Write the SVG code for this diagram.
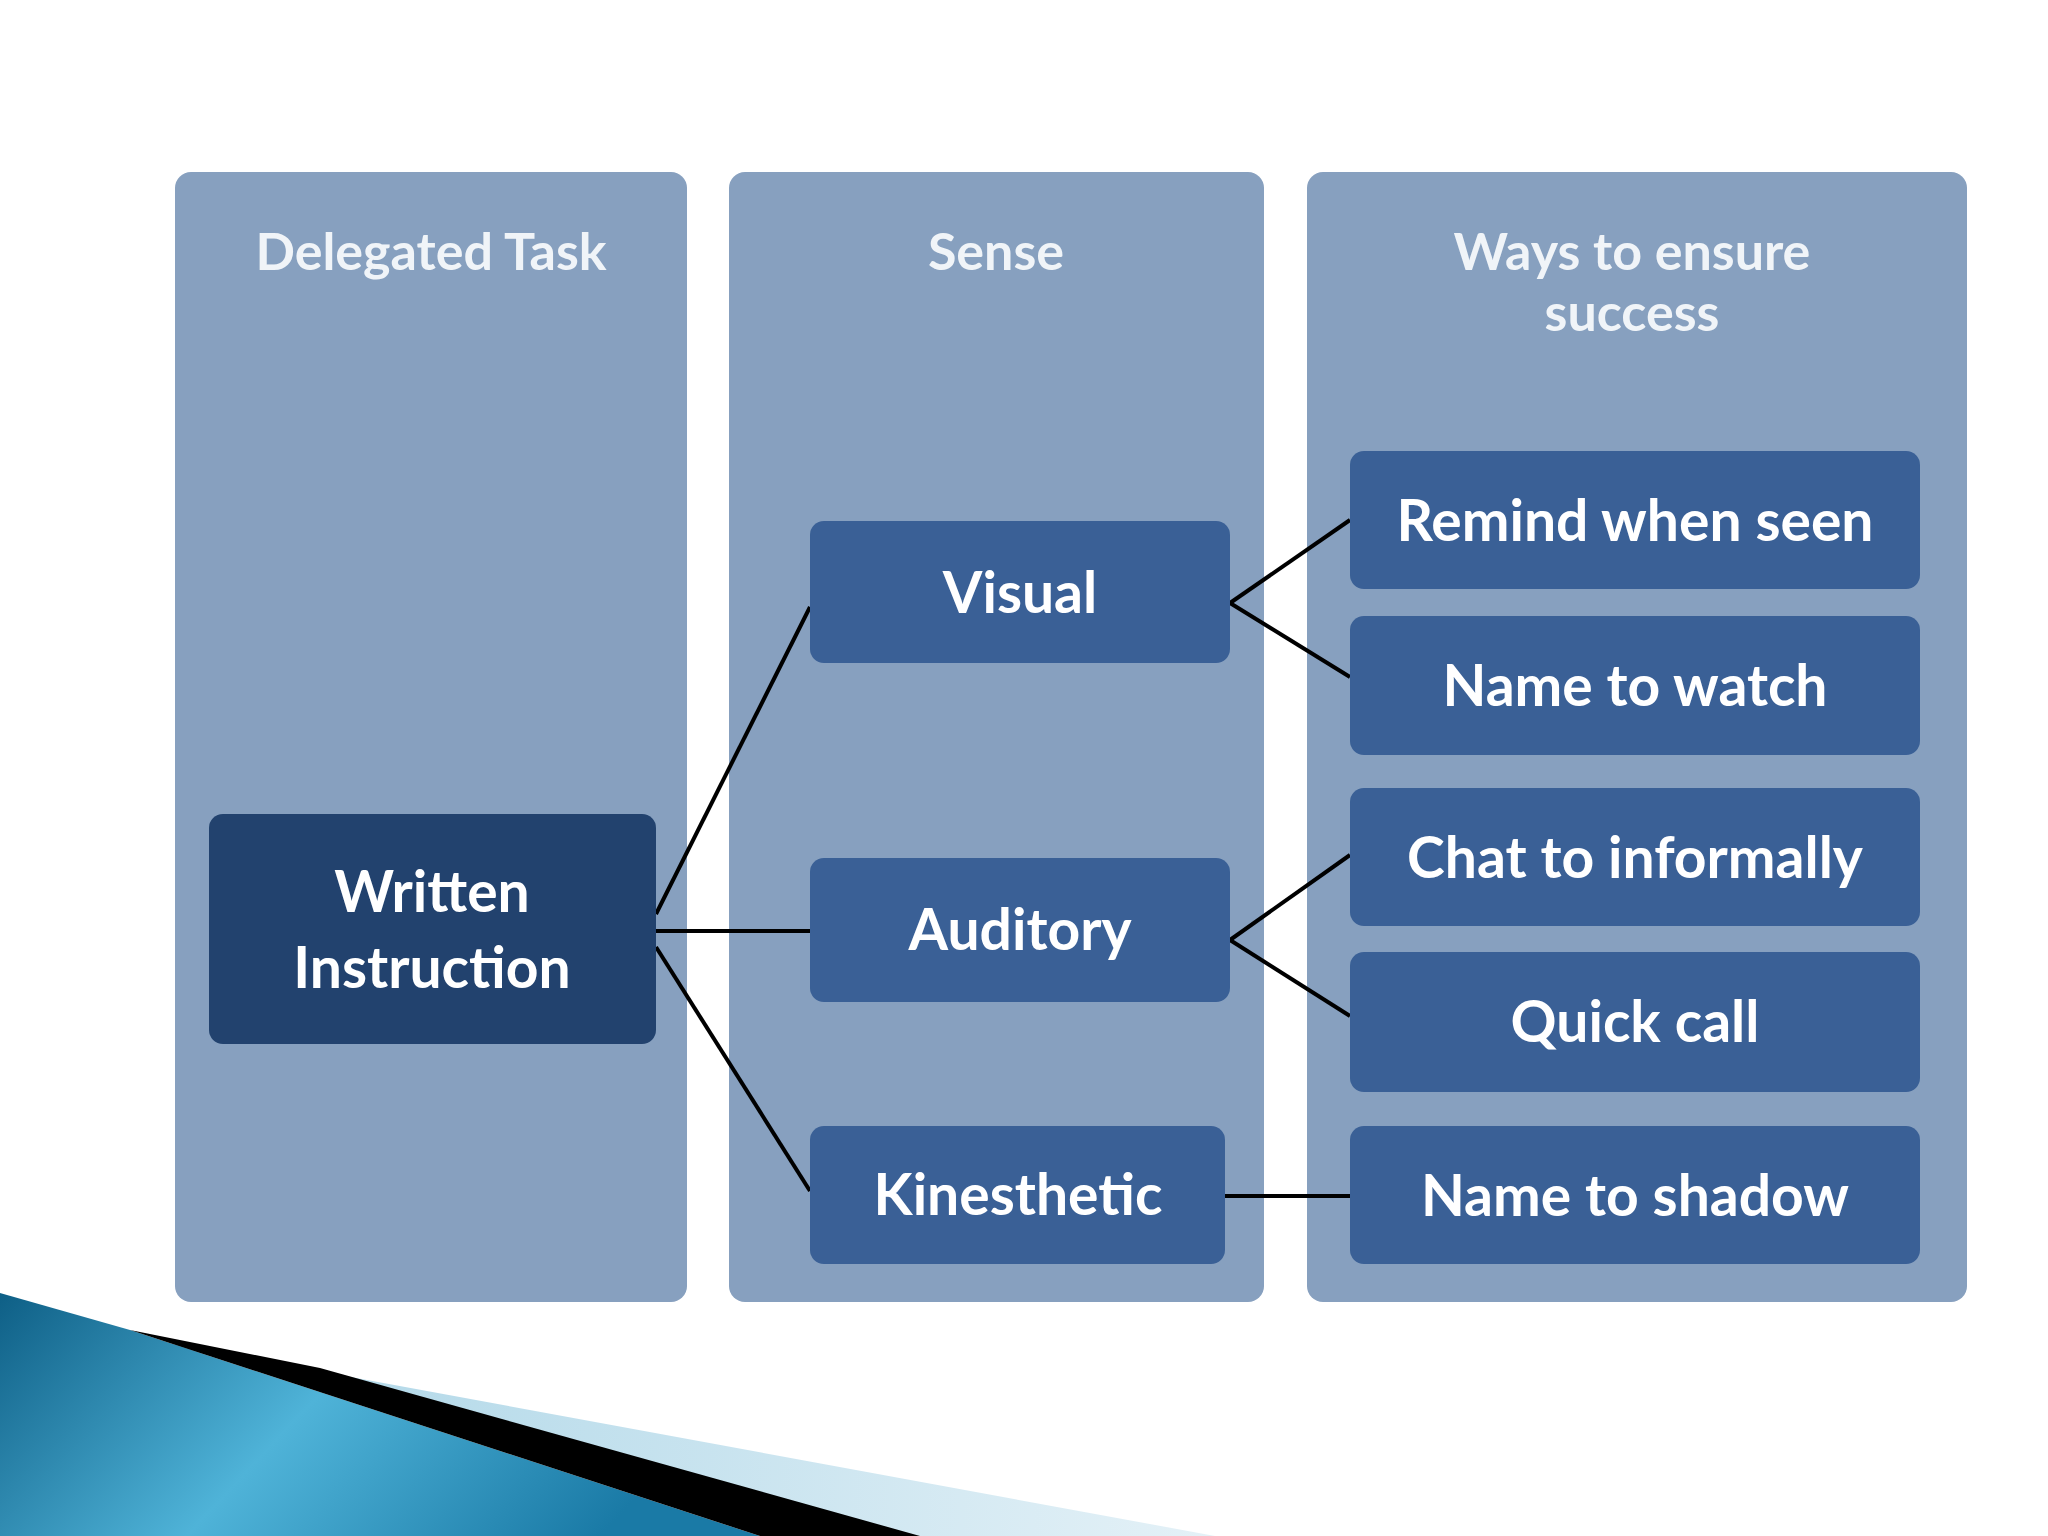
<svg xmlns="http://www.w3.org/2000/svg" width="2048" height="1536" viewBox="0 0 2048 1536">
<defs>
<style>
.col{fill:#87a0bf}
.node{fill:#3a6096}
.dark{fill:#22426e}
.hdr{font-family:Lato,"Open Sans",sans-serif;font-weight:bold;font-size:52px;fill:#f0f4f8;text-anchor:middle}
.t{font-family:Lato,"Open Sans",sans-serif;font-weight:bold;font-size:57px;fill:#ffffff;text-anchor:middle}
.c{stroke:#000;stroke-width:4;fill:none}
</style>
<linearGradient id="teal" x1="0" y1="0" x2="1" y2="0.3">
<stop offset="0" stop-color="#0e5f86"/><stop offset="0.5" stop-color="#4fb3d8"/><stop offset="1" stop-color="#1a7aa6"/>
</linearGradient>
<linearGradient id="lite" x1="0" y1="0" x2="1" y2="0">
<stop offset="0" stop-color="#a9d4e6"/><stop offset="1" stop-color="#e4f1f7"/>
</linearGradient>
</defs>
<rect width="2048" height="1536" fill="#ffffff"/>
<g id="bg-decor">
<polygon points="150,1340 1215,1536 900,1536" fill="url(#lite)"/>
<polygon points="0,1293 130,1330 760,1536 0,1536" fill="url(#teal)"/>
<polygon points="130,1330 320,1368 920,1536 760,1536" fill="#000"/>
</g>
<g id="columns">
<rect id="col-task" class="col" x="175" y="172" width="512" height="1130" rx="16"/>
<rect id="col-sense" class="col" x="729" y="172" width="535" height="1130" rx="16"/>
<rect id="col-ways" class="col" x="1307" y="172" width="660" height="1130" rx="16"/>
<text class="hdr" x="431" y="270">Delegated Task</text>
<text class="hdr" x="996" y="270">Sense</text>
<text class="hdr" x="1632" y="270">Ways to ensure</text>
<text class="hdr" x="1632" y="331">success</text>
</g>
<g id="connectors">
<line class="c" x1="656" y1="914" x2="810" y2="607"/>
<line class="c" x1="656" y1="931" x2="810" y2="931"/>
<line class="c" x1="656" y1="947" x2="810" y2="1191"/>
<line class="c" x1="1230" y1="603" x2="1350" y2="520"/>
<line class="c" x1="1230" y1="603" x2="1350" y2="677"/>
<line class="c" x1="1230" y1="940" x2="1350" y2="855"/>
<line class="c" x1="1230" y1="940" x2="1350" y2="1016"/>
<line class="c" x1="1225" y1="1196" x2="1350" y2="1196"/>
</g>
<g id="written"><rect class="dark" x="209" y="814" width="447" height="230" rx="14"/><text class="t" x="432" y="912" font-size="62">Written</text><text class="t" x="432" y="988" font-size="62">Instruction</text></g>
<g id="visual"><rect class="node" x="810" y="521" width="420" height="142" rx="14"/><text class="t" x="1020" y="613">Visual</text></g>
<g id="auditory"><rect class="node" x="810" y="858" width="420" height="144" rx="14"/><text class="t" x="1020" y="950">Auditory</text></g>
<g id="kinesthetic"><rect class="node" x="810" y="1126" width="415" height="138" rx="14"/><text class="t" x="1018" y="1215">Kinesthetic</text></g>
<g id="remind"><rect class="node" x="1350" y="451" width="570" height="138" rx="14"/><text class="t" x="1635" y="541">Remind when seen</text></g>
<g id="watch"><rect class="node" x="1350" y="616" width="570" height="139" rx="14"/><text class="t" x="1635" y="706">Name to watch</text></g>
<g id="chat"><rect class="node" x="1350" y="788" width="570" height="138" rx="14"/><text class="t" x="1635" y="878">Chat to informally</text></g>
<g id="quick"><rect class="node" x="1350" y="952" width="570" height="140" rx="14"/><text class="t" x="1635" y="1042">Quick call</text></g>
<g id="shadow"><rect class="node" x="1350" y="1126" width="570" height="138" rx="14"/><text class="t" x="1635" y="1216">Name to shadow</text></g>
</svg>
